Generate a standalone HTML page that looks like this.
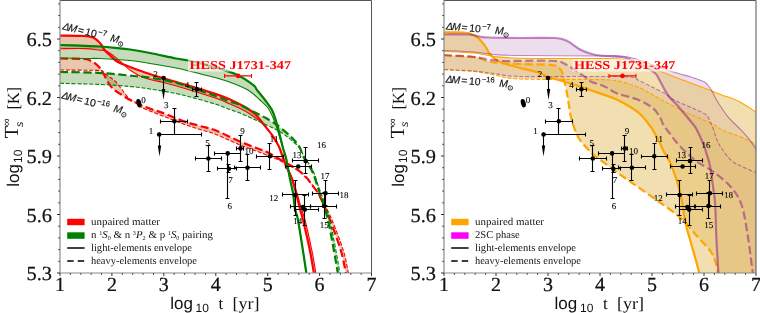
<!DOCTYPE html>
<html><head><meta charset="utf-8"><style>
text{text-rendering:geometricPrecision}
html,body{margin:0;padding:0;background:#fff;width:760px;height:313px;overflow:hidden}
svg{display:block;will-change:transform}
text{font-family:"Liberation Serif",serif;fill:#111}
.tick{font-size:20px;stroke:#000;stroke-width:0.2px}
.xl{font-size:16px}
.sans{font-family:"Liberation Sans",sans-serif}
.lab{font-size:9px;fill:#000;stroke:#000;stroke-width:0.08px}
.leg{font-size:10.5px;fill:#111}
.ann{font-family:"Liberation Sans",sans-serif;font-size:10.4px;fill:#111;stroke:#111;stroke-width:0.15px}
.hess{font-weight:bold;font-size:12px;fill:#ff0000}
</style></head><body>
<svg width="760" height="313" viewBox="0 0 760 313">
<defs><clipPath id="cl"><rect x="60" y="0" width="311.5" height="273"/></clipPath><clipPath id="cr"><rect x="444" y="0" width="312" height="273"/></clipPath></defs>
<rect width="760" height="313" fill="#fff"/>
<g clip-path="url(#cl)">
<path d="M60.00,35.60 C64.00,35.67 78.50,35.68 84.00,36.00 C89.50,36.32 90.67,36.67 93.00,37.50 C95.33,38.33 96.58,39.75 98.00,41.00 C99.42,42.25 100.33,43.42 101.50,45.00 C102.67,46.58 103.58,48.75 105.00,50.50 C106.42,52.25 108.33,53.92 110.00,55.50 C111.67,57.08 113.33,58.75 115.00,60.00 C116.67,61.25 117.50,61.83 120.00,63.00 C122.50,64.17 125.83,65.42 130.00,67.00 C134.17,68.58 139.40,70.62 145.00,72.50 C150.60,74.38 157.23,76.38 163.60,78.30 C169.97,80.22 174.47,81.37 183.20,84.00 C191.93,86.63 208.20,91.52 216.00,94.10 C223.80,96.68 225.17,97.35 230.00,99.50 C234.83,101.65 240.83,104.58 245.00,107.00 C249.17,109.42 252.33,111.67 255.00,114.00 C257.67,116.33 259.33,119.00 261.00,121.00 C262.67,123.00 263.17,123.67 265.00,126.00 C266.83,128.33 270.00,132.17 272.00,135.00 C274.00,137.83 275.67,140.67 277.00,143.00 C278.33,145.33 279.00,146.50 280.00,149.00 C281.00,151.50 281.83,154.83 283.00,158.00 C284.17,161.17 285.50,164.50 287.00,168.00 C288.50,171.50 290.50,174.83 292.00,179.00 C293.50,183.17 294.67,188.00 296.00,193.00 C297.33,198.00 298.83,204.50 300.00,209.00 C301.17,213.50 301.33,213.00 303.00,220.00 C304.67,227.00 308.17,242.00 310.00,251.00 C311.83,260.00 313.33,270.17 314.00,274.00 L316.00,274.00 C315.33,270.17 313.83,260.00 312.00,251.00 C310.17,242.00 306.75,227.00 305.00,220.00 C303.25,213.00 302.83,213.50 301.50,209.00 C300.17,204.50 298.50,198.00 297.00,193.00 C295.50,188.00 294.08,183.17 292.50,179.00 C290.92,174.83 289.00,171.50 287.50,168.00 C286.00,164.50 284.75,161.17 283.50,158.00 C282.25,154.83 281.08,151.50 280.00,149.00 C278.92,146.50 278.33,145.33 277.00,143.00 C275.67,140.67 274.00,137.75 272.00,135.00 C270.00,132.25 266.83,128.67 265.00,126.50 C263.17,124.33 262.67,123.50 261.00,122.00 C259.33,120.50 257.67,119.33 255.00,117.50 C252.33,115.67 249.17,113.25 245.00,111.00 C240.83,108.75 234.83,106.12 230.00,104.00 C225.17,101.88 223.80,100.97 216.00,98.30 C208.20,95.63 191.93,90.63 183.20,88.00 C174.47,85.37 168.80,83.83 163.60,82.50 C158.40,81.17 155.93,81.08 152.00,80.00 C148.07,78.92 143.67,77.67 140.00,76.00 C136.33,74.33 132.67,71.87 130.00,70.00 C127.33,68.13 126.17,66.70 124.00,64.80 C121.83,62.90 119.33,60.53 117.00,58.60 C114.67,56.67 112.00,54.53 110.00,53.20 C108.00,51.87 106.67,51.10 105.00,50.60 C103.33,50.10 103.33,50.53 100.00,50.20 C96.67,49.87 91.67,48.85 85.00,48.60 C78.33,48.35 64.17,48.68 60.00,48.70 Z" fill="rgba(188,85,8,0.33)"/>
<path d="M60.00,58.50 C63.83,58.58 78.00,58.67 83.00,59.00 C88.00,59.33 87.88,59.70 90.00,60.50 C92.12,61.30 93.90,62.38 95.70,63.80 C97.50,65.22 99.42,67.22 100.80,69.00 C102.18,70.78 102.72,72.17 104.00,74.50 C105.28,76.83 106.90,80.52 108.50,83.00 C110.10,85.48 111.48,87.48 113.60,89.40 C115.72,91.32 118.43,92.73 121.20,94.50 C123.97,96.27 127.73,98.65 130.20,100.00 C132.67,101.35 134.02,101.65 136.00,102.60 C137.98,103.55 139.37,104.55 142.10,105.70 C144.83,106.85 148.97,108.30 152.40,109.50 C155.83,110.70 157.57,110.97 162.70,112.90 C167.83,114.83 176.98,118.92 183.20,121.10 C189.42,123.28 194.53,124.43 200.00,126.00 C205.47,127.57 209.92,128.17 216.00,130.50 C222.08,132.83 229.67,137.03 236.50,140.00 C243.33,142.97 252.08,146.38 257.00,148.30 C261.92,150.22 262.83,150.05 266.00,151.50 C269.17,152.95 272.67,155.08 276.00,157.00 C279.33,158.92 282.67,161.08 286.00,163.00 C289.33,164.92 292.67,166.17 296.00,168.50 C299.33,170.83 303.33,174.25 306.00,177.00 C308.67,179.75 310.00,182.33 312.00,185.00 C314.00,187.67 316.33,190.33 318.00,193.00 C319.67,195.67 320.00,196.50 322.00,201.00 C324.00,205.50 326.83,211.67 330.00,220.00 C333.17,228.33 338.33,242.00 341.00,251.00 C343.67,260.00 345.17,270.17 346.00,274.00 L348.50,274.00 C347.67,270.17 346.25,260.00 343.50,251.00 C340.75,242.00 335.33,228.00 332.00,220.00 C328.67,212.00 325.67,207.17 323.50,203.00 C321.33,198.83 320.58,197.67 319.00,195.00 C317.42,192.33 315.83,189.50 314.00,187.00 C312.17,184.50 310.33,182.50 308.00,180.00 C305.67,177.50 303.00,174.33 300.00,172.00 C297.00,169.67 293.73,168.08 290.00,166.00 C286.27,163.92 283.10,161.95 277.60,159.50 C272.10,157.05 263.27,153.72 257.00,151.30 C250.73,148.88 246.83,147.82 240.00,145.00 C233.17,142.18 222.67,136.98 216.00,134.40 C209.33,131.82 205.47,131.23 200.00,129.50 C194.53,127.77 189.42,126.27 183.20,124.00 C176.98,121.73 169.55,118.62 162.70,115.90 C155.85,113.18 146.47,109.82 142.10,107.70 C137.73,105.58 138.43,104.53 136.50,103.20 C134.57,101.87 132.17,100.98 130.50,99.70 C128.83,98.42 127.75,96.95 126.50,95.50 C125.25,94.05 124.17,92.50 123.00,91.00 C121.83,89.50 120.75,88.08 119.50,86.50 C118.25,84.92 117.00,83.00 115.50,81.50 C114.00,80.00 112.25,78.78 110.50,77.50 C108.75,76.22 106.42,74.85 105.00,73.80 C103.58,72.75 103.17,71.77 102.00,71.20 C100.83,70.63 105.00,70.60 98.00,70.40 C91.00,70.20 66.33,70.07 60.00,70.00 Z" fill="rgba(188,85,8,0.33)"/>
<path d="M60.00,45.00 C64.17,45.13 78.33,45.55 85.00,45.80 C91.67,46.05 95.00,46.17 100.00,46.50 C105.00,46.83 110.00,47.30 115.00,47.80 C120.00,48.30 124.17,48.63 130.00,49.50 C135.83,50.37 142.33,51.50 150.00,53.00 C157.67,54.50 169.20,57.17 176.00,58.50 C182.80,59.83 184.13,59.50 190.80,61.00 C197.47,62.50 208.38,65.23 216.00,67.50 C223.62,69.77 230.33,71.70 236.50,74.60 C242.67,77.50 249.58,82.33 253.00,84.90 C256.42,87.47 255.00,87.48 257.00,90.00 C259.00,92.52 262.50,96.67 265.00,100.00 C267.50,103.33 270.17,106.50 272.00,110.00 C273.83,113.50 274.92,117.67 276.00,121.00 C277.08,124.33 277.67,126.83 278.50,130.00 C279.33,133.17 280.25,137.00 281.00,140.00 C281.75,143.00 282.17,145.00 283.00,148.00 C283.83,151.00 285.17,154.67 286.00,158.00 C286.83,161.33 287.33,164.50 288.00,168.00 C288.67,171.50 289.17,174.83 290.00,179.00 C290.83,183.17 292.17,188.00 293.00,193.00 C293.83,198.00 294.17,204.50 295.00,209.00 C295.83,213.50 296.67,213.00 298.00,220.00 C299.33,227.00 301.58,242.00 303.00,251.00 C304.42,260.00 305.92,270.17 306.50,274.00 L306.50,274.00 C305.92,270.17 304.42,260.00 303.00,251.00 C301.58,242.00 299.33,227.00 298.00,220.00 C296.67,213.00 295.83,213.50 295.00,209.00 C294.17,204.50 293.83,198.00 293.00,193.00 C292.17,188.00 290.83,183.17 290.00,179.00 C289.17,174.83 288.67,171.50 288.00,168.00 C287.33,164.50 286.83,161.33 286.00,158.00 C285.17,154.67 283.92,151.00 283.00,148.00 C282.08,145.00 281.42,143.00 280.50,140.00 C279.58,137.00 278.58,133.33 277.50,130.00 C276.42,126.67 275.58,123.67 274.00,120.00 C272.42,116.33 270.33,111.33 268.00,108.00 C265.67,104.67 263.33,103.00 260.00,100.00 C256.67,97.00 252.68,92.83 248.00,90.00 C243.32,87.17 237.23,85.03 231.90,83.00 C226.57,80.97 220.48,79.13 216.00,77.80 C211.52,76.47 209.33,76.10 205.00,75.00 C200.67,73.90 194.83,72.37 190.00,71.20 C185.17,70.03 182.67,69.28 176.00,68.00 C169.33,66.72 157.67,64.75 150.00,63.50 C142.33,62.25 138.33,61.33 130.00,60.50 C121.67,59.67 107.50,58.83 100.00,58.50 C92.50,58.17 91.67,58.58 85.00,58.50 C78.33,58.42 64.17,58.08 60.00,58.00 Z" fill="rgba(62,135,28,0.30)"/>
<path d="M60.00,72.00 C66.33,72.13 85.67,72.13 98.00,72.80 C110.33,73.47 126.67,75.35 134.00,76.00 C141.33,76.65 137.22,76.07 142.00,76.70 C146.78,77.33 155.83,78.43 162.70,79.80 C169.57,81.17 174.32,82.17 183.20,84.90 C192.08,87.63 208.20,93.43 216.00,96.20 C223.80,98.97 226.00,100.03 230.00,101.50 C234.00,102.97 236.67,103.58 240.00,105.00 C243.33,106.42 246.67,108.33 250.00,110.00 C253.33,111.67 257.33,113.67 260.00,115.00 C262.67,116.33 264.33,117.08 266.00,118.00 C267.67,118.92 268.17,119.33 270.00,120.50 C271.83,121.67 274.00,122.75 277.00,125.00 C280.00,127.25 285.00,131.33 288.00,134.00 C291.00,136.67 293.00,138.67 295.00,141.00 C297.00,143.33 298.67,145.50 300.00,148.00 C301.33,150.50 301.67,153.33 303.00,156.00 C304.33,158.67 306.33,161.17 308.00,164.00 C309.67,166.83 311.33,169.00 313.00,173.00 C314.67,177.00 316.50,183.50 318.00,188.00 C319.50,192.50 320.33,194.67 322.00,200.00 C323.67,205.33 326.00,211.50 328.00,220.00 C330.00,228.50 332.33,242.00 334.00,251.00 C335.67,260.00 337.33,270.17 338.00,274.00 L340.00,274.00 C339.33,270.17 337.70,260.00 336.00,251.00 C334.30,242.00 331.88,228.50 329.80,220.00 C327.72,211.50 325.30,205.33 323.50,200.00 C321.70,194.67 320.58,192.50 319.00,188.00 C317.42,183.50 315.67,177.00 314.00,173.00 C312.33,169.00 310.67,166.83 309.00,164.00 C307.33,161.17 305.50,158.50 304.00,156.00 C302.50,153.50 301.17,150.83 300.00,149.00 C298.83,147.17 299.50,147.33 297.00,145.00 C294.50,142.67 288.67,137.67 285.00,135.00 C281.33,132.33 279.17,131.17 275.00,129.00 C270.83,126.83 264.17,123.92 260.00,122.00 C255.83,120.08 253.33,119.00 250.00,117.50 C246.67,116.00 243.33,114.33 240.00,113.00 C236.67,111.67 234.00,110.95 230.00,109.50 C226.00,108.05 221.67,106.13 216.00,104.30 C210.33,102.47 202.67,100.30 196.00,98.50 C189.33,96.70 183.67,95.08 176.00,93.50 C168.33,91.92 157.67,90.17 150.00,89.00 C142.33,87.83 138.17,87.25 130.00,86.50 C121.83,85.75 112.67,85.03 101.00,84.50 C89.33,83.97 66.83,83.50 60.00,83.30 Z" fill="rgba(62,135,28,0.30)"/>
<path d="M60.00,35.60 C64.00,35.67 78.50,35.68 84.00,36.00 C89.50,36.32 90.67,36.67 93.00,37.50 C95.33,38.33 96.58,39.75 98.00,41.00 C99.42,42.25 100.33,43.42 101.50,45.00 C102.67,46.58 103.58,48.75 105.00,50.50 C106.42,52.25 108.33,53.92 110.00,55.50 C111.67,57.08 113.33,58.75 115.00,60.00 C116.67,61.25 117.50,61.83 120.00,63.00 C122.50,64.17 125.83,65.42 130.00,67.00 C134.17,68.58 139.40,70.62 145.00,72.50 C150.60,74.38 157.23,76.38 163.60,78.30 C169.97,80.22 174.47,81.37 183.20,84.00 C191.93,86.63 208.20,91.52 216.00,94.10 C223.80,96.68 225.17,97.35 230.00,99.50 C234.83,101.65 240.83,104.58 245.00,107.00 C249.17,109.42 252.33,111.67 255.00,114.00 C257.67,116.33 259.33,119.00 261.00,121.00 C262.67,123.00 263.17,123.67 265.00,126.00 C266.83,128.33 270.00,132.17 272.00,135.00 C274.00,137.83 275.67,140.67 277.00,143.00 C278.33,145.33 279.00,146.50 280.00,149.00 C281.00,151.50 281.83,154.83 283.00,158.00 C284.17,161.17 285.50,164.50 287.00,168.00 C288.50,171.50 290.50,174.83 292.00,179.00 C293.50,183.17 294.67,188.00 296.00,193.00 C297.33,198.00 298.83,204.50 300.00,209.00 C301.17,213.50 301.33,213.00 303.00,220.00 C304.67,227.00 308.17,242.00 310.00,251.00 C311.83,260.00 313.33,270.17 314.00,274.00" fill="none" stroke="#ff0000" stroke-width="2.20" stroke-linejoin="round"/>

<path d="M60.00,48.70 C64.17,48.68 78.33,48.35 85.00,48.60 C91.67,48.85 96.67,49.87 100.00,50.20 C103.33,50.53 103.33,50.10 105.00,50.60 C106.67,51.10 108.00,51.87 110.00,53.20 C112.00,54.53 114.67,56.67 117.00,58.60 C119.33,60.53 121.83,62.90 124.00,64.80 C126.17,66.70 127.33,68.13 130.00,70.00 C132.67,71.87 136.33,74.33 140.00,76.00 C143.67,77.67 148.07,78.92 152.00,80.00 C155.93,81.08 158.40,81.17 163.60,82.50 C168.80,83.83 174.47,85.37 183.20,88.00 C191.93,90.63 208.20,95.63 216.00,98.30 C223.80,100.97 225.17,101.88 230.00,104.00 C234.83,106.12 240.83,108.75 245.00,111.00 C249.17,113.25 252.33,115.67 255.00,117.50 C257.67,119.33 259.33,120.50 261.00,122.00 C262.67,123.50 263.17,124.33 265.00,126.50 C266.83,128.67 270.00,132.25 272.00,135.00 C274.00,137.75 275.67,140.67 277.00,143.00 C278.33,145.33 278.92,146.50 280.00,149.00 C281.08,151.50 282.25,154.83 283.50,158.00 C284.75,161.17 286.00,164.50 287.50,168.00 C289.00,171.50 290.92,174.83 292.50,179.00 C294.08,183.17 295.50,188.00 297.00,193.00 C298.50,198.00 300.17,204.50 301.50,209.00 C302.83,213.50 303.25,213.00 305.00,220.00 C306.75,227.00 310.17,242.00 312.00,251.00 C313.83,260.00 315.33,270.17 316.00,274.00" fill="none" stroke="#ff0000" stroke-width="1.10" stroke-linejoin="round"/>

<path d="M60.00,58.50 C63.83,58.58 78.00,58.67 83.00,59.00 C88.00,59.33 87.88,59.70 90.00,60.50 C92.12,61.30 93.90,62.38 95.70,63.80 C97.50,65.22 99.42,67.22 100.80,69.00 C102.18,70.78 102.72,72.17 104.00,74.50 C105.28,76.83 106.90,80.52 108.50,83.00 C110.10,85.48 111.48,87.48 113.60,89.40 C115.72,91.32 118.43,92.73 121.20,94.50 C123.97,96.27 127.73,98.65 130.20,100.00 C132.67,101.35 134.02,101.65 136.00,102.60 C137.98,103.55 139.37,104.55 142.10,105.70 C144.83,106.85 148.97,108.30 152.40,109.50 C155.83,110.70 157.57,110.97 162.70,112.90 C167.83,114.83 176.98,118.92 183.20,121.10 C189.42,123.28 194.53,124.43 200.00,126.00 C205.47,127.57 209.92,128.17 216.00,130.50 C222.08,132.83 229.67,137.03 236.50,140.00 C243.33,142.97 252.08,146.38 257.00,148.30 C261.92,150.22 262.83,150.05 266.00,151.50 C269.17,152.95 272.67,155.08 276.00,157.00 C279.33,158.92 282.67,161.08 286.00,163.00 C289.33,164.92 292.67,166.17 296.00,168.50 C299.33,170.83 303.33,174.25 306.00,177.00 C308.67,179.75 310.00,182.33 312.00,185.00 C314.00,187.67 316.33,190.33 318.00,193.00 C319.67,195.67 320.00,196.50 322.00,201.00 C324.00,205.50 326.83,211.67 330.00,220.00 C333.17,228.33 338.33,242.00 341.00,251.00 C343.67,260.00 345.17,270.17 346.00,274.00" fill="none" stroke="#ff0000" stroke-width="2.20" stroke-dasharray="8.14 3.52" stroke-linejoin="round"/>

<path d="M60.00,70.00 C66.33,70.07 91.00,70.20 98.00,70.40 C105.00,70.60 100.83,70.63 102.00,71.20 C103.17,71.77 103.58,72.75 105.00,73.80 C106.42,74.85 108.75,76.22 110.50,77.50 C112.25,78.78 114.00,80.00 115.50,81.50 C117.00,83.00 118.25,84.92 119.50,86.50 C120.75,88.08 121.83,89.50 123.00,91.00 C124.17,92.50 125.25,94.05 126.50,95.50 C127.75,96.95 128.83,98.42 130.50,99.70 C132.17,100.98 134.57,101.87 136.50,103.20 C138.43,104.53 137.73,105.58 142.10,107.70 C146.47,109.82 155.85,113.18 162.70,115.90 C169.55,118.62 176.98,121.73 183.20,124.00 C189.42,126.27 194.53,127.77 200.00,129.50 C205.47,131.23 209.33,131.82 216.00,134.40 C222.67,136.98 233.17,142.18 240.00,145.00 C246.83,147.82 250.73,148.88 257.00,151.30 C263.27,153.72 272.10,157.05 277.60,159.50 C283.10,161.95 286.27,163.92 290.00,166.00 C293.73,168.08 297.00,169.67 300.00,172.00 C303.00,174.33 305.67,177.50 308.00,180.00 C310.33,182.50 312.17,184.50 314.00,187.00 C315.83,189.50 317.42,192.33 319.00,195.00 C320.58,197.67 321.33,198.83 323.50,203.00 C325.67,207.17 328.67,212.00 332.00,220.00 C335.33,228.00 340.75,242.00 343.50,251.00 C346.25,260.00 347.67,270.17 348.50,274.00" fill="none" stroke="#ff0000" stroke-width="1.10" stroke-dasharray="4.07 1.76" stroke-linejoin="round"/>

<path d="M60.00,45.00 C64.17,45.13 78.33,45.55 85.00,45.80 C91.67,46.05 95.00,46.17 100.00,46.50 C105.00,46.83 110.00,47.30 115.00,47.80 C120.00,48.30 124.17,48.63 130.00,49.50 C135.83,50.37 142.33,51.50 150.00,53.00 C157.67,54.50 169.20,57.17 176.00,58.50 C182.80,59.83 184.13,59.50 190.80,61.00 C197.47,62.50 208.38,65.23 216.00,67.50 C223.62,69.77 230.33,71.70 236.50,74.60 C242.67,77.50 249.58,82.33 253.00,84.90 C256.42,87.47 255.00,87.48 257.00,90.00 C259.00,92.52 262.50,96.67 265.00,100.00 C267.50,103.33 270.17,106.50 272.00,110.00 C273.83,113.50 274.92,117.67 276.00,121.00 C277.08,124.33 277.67,126.83 278.50,130.00 C279.33,133.17 280.25,137.00 281.00,140.00 C281.75,143.00 282.17,145.00 283.00,148.00 C283.83,151.00 285.17,154.67 286.00,158.00 C286.83,161.33 287.33,164.50 288.00,168.00 C288.67,171.50 289.17,174.83 290.00,179.00 C290.83,183.17 292.17,188.00 293.00,193.00 C293.83,198.00 294.17,204.50 295.00,209.00 C295.83,213.50 296.67,213.00 298.00,220.00 C299.33,227.00 301.58,242.00 303.00,251.00 C304.42,260.00 305.92,270.17 306.50,274.00" fill="none" stroke="#008000" stroke-width="2.20" stroke-linejoin="round"/>

<path d="M60.00,58.00 C64.17,58.08 78.33,58.42 85.00,58.50 C91.67,58.58 92.50,58.17 100.00,58.50 C107.50,58.83 121.67,59.67 130.00,60.50 C138.33,61.33 142.33,62.25 150.00,63.50 C157.67,64.75 169.33,66.72 176.00,68.00 C182.67,69.28 185.17,70.03 190.00,71.20 C194.83,72.37 200.67,73.90 205.00,75.00 C209.33,76.10 211.52,76.47 216.00,77.80 C220.48,79.13 226.57,80.97 231.90,83.00 C237.23,85.03 243.32,87.17 248.00,90.00 C252.68,92.83 256.67,97.00 260.00,100.00 C263.33,103.00 265.67,104.67 268.00,108.00 C270.33,111.33 272.42,116.33 274.00,120.00 C275.58,123.67 276.42,126.67 277.50,130.00 C278.58,133.33 279.58,137.00 280.50,140.00 C281.42,143.00 282.08,145.00 283.00,148.00 C283.92,151.00 285.17,154.67 286.00,158.00 C286.83,161.33 287.33,164.50 288.00,168.00 C288.67,171.50 289.17,174.83 290.00,179.00 C290.83,183.17 292.17,188.00 293.00,193.00 C293.83,198.00 294.17,204.50 295.00,209.00 C295.83,213.50 296.67,213.00 298.00,220.00 C299.33,227.00 301.58,242.00 303.00,251.00 C304.42,260.00 305.92,270.17 306.50,274.00" fill="none" stroke="#008000" stroke-width="1.10" stroke-linejoin="round"/>

<path d="M60.00,72.00 C66.33,72.13 85.67,72.13 98.00,72.80 C110.33,73.47 126.67,75.35 134.00,76.00 C141.33,76.65 137.22,76.07 142.00,76.70 C146.78,77.33 155.83,78.43 162.70,79.80 C169.57,81.17 174.32,82.17 183.20,84.90 C192.08,87.63 208.20,93.43 216.00,96.20 C223.80,98.97 226.00,100.03 230.00,101.50 C234.00,102.97 236.67,103.58 240.00,105.00 C243.33,106.42 246.67,108.33 250.00,110.00 C253.33,111.67 257.33,113.67 260.00,115.00 C262.67,116.33 264.33,117.08 266.00,118.00 C267.67,118.92 268.17,119.33 270.00,120.50 C271.83,121.67 274.00,122.75 277.00,125.00 C280.00,127.25 285.00,131.33 288.00,134.00 C291.00,136.67 293.00,138.67 295.00,141.00 C297.00,143.33 298.67,145.50 300.00,148.00 C301.33,150.50 301.67,153.33 303.00,156.00 C304.33,158.67 306.33,161.17 308.00,164.00 C309.67,166.83 311.33,169.00 313.00,173.00 C314.67,177.00 316.50,183.50 318.00,188.00 C319.50,192.50 320.33,194.67 322.00,200.00 C323.67,205.33 326.00,211.50 328.00,220.00 C330.00,228.50 332.33,242.00 334.00,251.00 C335.67,260.00 337.33,270.17 338.00,274.00" fill="none" stroke="#008000" stroke-width="2.20" stroke-dasharray="8.14 3.52" stroke-linejoin="round"/>

<path d="M60.00,83.30 C66.83,83.50 89.33,83.97 101.00,84.50 C112.67,85.03 121.83,85.75 130.00,86.50 C138.17,87.25 142.33,87.83 150.00,89.00 C157.67,90.17 168.33,91.92 176.00,93.50 C183.67,95.08 189.33,96.70 196.00,98.50 C202.67,100.30 210.33,102.47 216.00,104.30 C221.67,106.13 226.00,108.05 230.00,109.50 C234.00,110.95 236.67,111.67 240.00,113.00 C243.33,114.33 246.67,116.00 250.00,117.50 C253.33,119.00 255.83,120.08 260.00,122.00 C264.17,123.92 270.83,126.83 275.00,129.00 C279.17,131.17 281.33,132.33 285.00,135.00 C288.67,137.67 294.50,142.67 297.00,145.00 C299.50,147.33 298.83,147.17 300.00,149.00 C301.17,150.83 302.50,153.50 304.00,156.00 C305.50,158.50 307.33,161.17 309.00,164.00 C310.67,166.83 312.33,169.00 314.00,173.00 C315.67,177.00 317.42,183.50 319.00,188.00 C320.58,192.50 321.70,194.67 323.50,200.00 C325.30,205.33 327.72,211.50 329.80,220.00 C331.88,228.50 334.30,242.00 336.00,251.00 C337.70,260.00 339.33,270.17 340.00,274.00" fill="none" stroke="#008000" stroke-width="1.10" stroke-dasharray="4.07 1.76" stroke-linejoin="round"/>

</g>
<g clip-path="url(#cr)">
<path d="M444.00,34.50 C448.17,34.50 463.17,34.17 469.00,34.50 C474.83,34.83 475.67,36.00 479.00,36.50 C482.33,37.00 482.17,37.25 489.00,37.50 C495.83,37.75 509.00,37.92 520.00,38.00 C531.00,38.08 547.12,37.48 555.00,38.00 C562.88,38.52 563.20,39.22 567.30,41.10 C571.40,42.98 575.82,47.23 579.60,49.30 C583.38,51.37 586.60,52.47 590.00,53.50 C593.40,54.53 595.00,55.08 600.00,55.50 C605.00,55.92 615.00,55.67 620.00,56.00 C625.00,56.33 626.67,56.83 630.00,57.50 C633.33,58.17 636.67,58.92 640.00,60.00 C643.33,61.08 646.67,62.75 650.00,64.00 C653.33,65.25 655.67,66.03 660.00,67.50 C664.33,68.97 670.83,71.22 676.00,72.80 C681.17,74.38 686.83,75.72 691.00,77.00 C695.17,78.28 698.50,79.50 701.00,80.50 C703.50,81.50 704.50,81.75 706.00,83.00 C707.50,84.25 708.83,86.33 710.00,88.00 C711.17,89.67 712.00,91.17 713.00,93.00 C714.00,94.83 714.97,97.13 716.00,99.00 C717.03,100.87 717.13,101.13 719.20,104.20 C721.27,107.27 725.10,113.43 728.40,117.40 C731.70,121.37 735.65,124.50 739.00,128.00 C742.35,131.50 745.68,134.90 748.50,138.40 C751.32,141.90 748.98,138.73 755.90,149.00 C762.82,159.27 782.65,174.83 790.00,200.00 C797.35,225.17 798.33,283.33 800.00,300.00 L719.00,300.00 C718.90,295.67 718.85,284.57 718.40,274.00 C717.95,263.43 716.83,248.10 716.30,236.60 C715.77,225.10 715.73,213.23 715.20,205.00 C714.67,196.77 713.97,193.68 713.10,187.20 C712.23,180.72 711.23,172.13 710.00,166.10 C708.77,160.07 706.83,154.73 705.70,151.00 C704.57,147.27 704.67,147.20 703.20,143.70 C701.73,140.20 698.62,133.28 696.90,130.00 C695.18,126.72 695.77,127.63 692.90,124.00 C690.03,120.37 683.87,113.03 679.70,108.20 C675.53,103.37 671.18,99.53 667.90,95.00 C664.62,90.47 662.15,84.67 660.00,81.00 C657.85,77.33 657.50,75.33 655.00,73.00 C652.50,70.67 649.17,69.25 645.00,67.00 C640.83,64.75 633.95,61.17 630.00,59.50 C626.05,57.83 626.97,57.58 621.30,57.00 C615.63,56.42 612.88,56.25 596.00,56.00 C579.12,55.75 537.00,55.75 520.00,55.50 C503.00,55.25 501.67,55.08 494.00,54.50 C486.33,53.92 482.33,52.67 474.00,52.00 C465.67,51.33 449.00,50.75 444.00,50.50 Z" fill="rgba(202,158,202,0.34)"/>
<path d="M444.00,55.00 C449.00,55.33 466.50,56.25 474.00,57.00 C481.50,57.75 484.00,58.83 489.00,59.50 C494.00,60.17 498.83,60.78 504.00,61.00 C509.17,61.22 511.50,60.80 520.00,60.80 C528.50,60.80 547.50,60.47 555.00,61.00 C562.50,61.53 561.67,62.50 565.00,64.00 C568.33,65.50 571.67,67.83 575.00,70.00 C578.33,72.17 582.22,75.00 585.00,77.00 C587.78,79.00 588.53,80.47 591.70,82.00 C594.87,83.53 599.77,84.30 604.00,86.20 C608.23,88.10 611.40,91.13 617.10,93.40 C622.80,95.67 632.22,97.33 638.20,99.80 C644.18,102.27 649.37,105.27 653.00,108.20 C656.63,111.13 658.25,114.58 660.00,117.40 C661.75,120.22 661.75,122.25 663.50,125.10 C665.25,127.95 668.38,131.68 670.50,134.50 C672.62,137.32 673.85,139.25 676.20,142.00 C678.55,144.75 682.22,148.62 684.60,151.00 C686.98,153.38 688.38,154.48 690.50,156.30 C692.62,158.12 693.37,159.22 697.30,161.90 C701.23,164.58 708.48,168.18 714.10,172.40 C719.72,176.62 726.42,181.77 731.00,187.20 C735.58,192.63 738.78,196.77 741.60,205.00 C744.42,213.23 746.15,226.05 747.90,236.60 C749.65,247.15 751.28,262.07 752.10,268.30 C752.92,274.53 752.65,268.72 752.80,274.00 C752.95,279.28 752.97,295.67 753.00,300.00 L800.00,300.00 C798.33,281.67 798.00,211.50 790.00,190.00 C782.00,168.50 761.55,175.73 752.00,171.00 C742.45,166.27 737.68,165.27 732.70,161.60 C727.72,157.93 724.72,152.60 722.10,149.00 C719.48,145.40 718.40,143.17 717.00,140.00 C715.60,136.83 714.87,133.12 713.70,130.00 C712.53,126.88 711.28,123.85 710.00,121.30 C708.72,118.75 708.85,116.88 706.00,114.70 C703.15,112.52 698.37,110.72 692.90,108.20 C687.43,105.68 678.02,102.12 673.20,99.60 C668.38,97.08 669.53,96.20 664.00,93.10 C658.47,90.00 645.67,83.68 640.00,81.00 C634.33,78.32 637.33,77.75 630.00,77.00 C622.67,76.25 614.33,76.58 596.00,76.50 C577.67,76.42 537.00,77.00 520.00,76.50 C503.00,76.00 501.67,74.42 494.00,73.50 C486.33,72.58 482.33,71.67 474.00,71.00 C465.67,70.33 449.00,69.75 444.00,69.50 Z" fill="rgba(202,158,202,0.34)"/>
<path d="M444.00,32.40 C447.33,32.42 459.50,32.23 464.00,32.50 C468.50,32.77 468.83,33.25 471.00,34.00 C473.17,34.75 475.17,35.67 477.00,37.00 C478.83,38.33 480.33,40.00 482.00,42.00 C483.67,44.00 485.83,47.17 487.00,49.00 C488.17,50.83 487.83,51.50 489.00,53.00 C490.17,54.50 492.17,56.50 494.00,58.00 C495.83,59.50 497.50,60.83 500.00,62.00 C502.50,63.17 505.67,64.00 509.00,65.00 C512.33,66.00 514.83,66.67 520.00,68.00 C525.17,69.33 535.33,71.50 540.00,73.00 C544.67,74.50 543.47,75.42 548.00,77.00 C552.53,78.58 558.53,79.77 567.20,82.50 C575.87,85.23 591.68,90.52 600.00,93.40 C608.32,96.28 610.73,96.63 617.10,99.80 C623.47,102.97 632.57,107.83 638.20,112.40 C643.83,116.97 647.38,122.27 650.90,127.20 C654.42,132.13 657.20,138.03 659.30,142.00 C661.40,145.97 661.75,147.68 663.50,151.00 C665.25,154.32 667.68,157.27 669.80,161.90 C671.92,166.53 674.43,173.53 676.20,178.80 C677.97,184.07 679.35,189.13 680.40,193.50 C681.45,197.87 681.62,199.92 682.50,205.00 C683.38,210.08 684.28,217.67 685.70,224.00 C687.12,230.33 688.72,234.67 691.00,243.00 C693.28,251.33 697.40,264.50 699.40,274.00 C701.40,283.50 702.40,295.67 703.00,300.00 L800.00,300.00 C798.33,273.33 797.55,171.43 790.00,140.00 C782.45,108.57 763.20,117.80 754.70,111.40 C746.20,105.00 742.95,103.83 739.00,101.60 C735.05,99.37 733.87,99.10 731.00,98.00 C728.13,96.90 724.97,96.17 721.80,95.00 C718.63,93.83 716.30,92.67 712.00,91.00 C707.70,89.33 702.00,87.25 696.00,85.00 C690.00,82.75 682.83,80.17 676.00,77.50 C669.17,74.83 661.00,71.58 655.00,69.00 C649.00,66.42 645.83,63.67 640.00,62.00 C634.17,60.33 627.33,59.58 620.00,59.00 C612.67,58.42 612.67,58.63 596.00,58.50 C579.33,58.37 537.00,58.53 520.00,58.20 C503.00,57.87 501.67,57.37 494.00,56.50 C486.33,55.63 482.33,53.83 474.00,53.00 C465.67,52.17 449.00,51.75 444.00,51.50 Z" fill="rgba(229,191,99,0.5)"/>
<path d="M444.00,55.50 C449.00,55.78 466.83,56.28 474.00,57.20 C481.17,58.12 482.67,60.03 487.00,61.00 C491.33,61.97 494.50,62.50 500.00,63.00 C505.50,63.50 511.67,63.70 520.00,64.00 C528.33,64.30 543.67,64.30 550.00,64.80 C556.33,65.30 556.00,65.80 558.00,67.00 C560.00,68.20 561.00,69.83 562.00,72.00 C563.00,74.17 563.27,77.00 564.00,80.00 C564.73,83.00 565.65,86.22 566.40,90.00 C567.15,93.78 567.63,97.78 568.50,102.70 C569.37,107.62 569.85,113.53 571.60,119.50 C573.35,125.47 575.65,132.87 579.00,138.50 C582.35,144.13 588.87,150.28 591.70,153.30 C594.53,156.32 591.77,153.42 596.00,156.60 C600.23,159.78 610.07,167.30 617.10,172.40 C624.13,177.50 631.17,182.27 638.20,187.20 C645.23,192.13 652.27,196.92 659.30,202.00 C666.33,207.08 674.07,211.93 680.40,217.70 C686.73,223.47 692.03,230.63 697.30,236.60 C702.57,242.57 708.48,247.27 712.00,253.50 C715.52,259.73 716.73,266.25 718.40,274.00 C720.07,281.75 721.40,295.67 722.00,300.00 L800.00,300.00 C798.33,277.50 797.53,191.05 790.00,165.00 C782.47,138.95 763.30,148.48 754.80,143.70 C746.30,138.92 744.47,138.58 739.00,136.30 C733.53,134.02 726.40,132.05 722.00,130.00 C717.60,127.95 718.55,126.92 712.60,124.00 C706.65,121.08 695.07,116.67 686.30,112.50 C677.53,108.33 667.72,103.08 660.00,99.00 C652.28,94.92 646.67,90.92 640.00,88.00 C633.33,85.08 627.33,82.92 620.00,81.50 C612.67,80.08 612.67,79.92 596.00,79.50 C579.33,79.08 537.00,79.75 520.00,79.00 C503.00,78.25 501.67,76.25 494.00,75.00 C486.33,73.75 482.33,72.37 474.00,71.50 C465.67,70.63 449.00,70.08 444.00,69.80 Z" fill="rgba(229,191,99,0.5)"/>
<path d="M444.00,32.40 C447.33,32.42 459.50,32.23 464.00,32.50 C468.50,32.77 468.83,33.25 471.00,34.00 C473.17,34.75 475.17,35.67 477.00,37.00 C478.83,38.33 480.33,40.00 482.00,42.00 C483.67,44.00 485.83,47.17 487.00,49.00 C488.17,50.83 487.83,51.50 489.00,53.00 C490.17,54.50 492.17,56.50 494.00,58.00 C495.83,59.50 497.50,60.83 500.00,62.00 C502.50,63.17 505.67,64.00 509.00,65.00 C512.33,66.00 514.83,66.67 520.00,68.00 C525.17,69.33 535.33,71.50 540.00,73.00 C544.67,74.50 543.47,75.42 548.00,77.00 C552.53,78.58 558.53,79.77 567.20,82.50 C575.87,85.23 591.68,90.52 600.00,93.40 C608.32,96.28 610.73,96.63 617.10,99.80 C623.47,102.97 632.57,107.83 638.20,112.40 C643.83,116.97 647.38,122.27 650.90,127.20 C654.42,132.13 657.20,138.03 659.30,142.00 C661.40,145.97 661.75,147.68 663.50,151.00 C665.25,154.32 667.68,157.27 669.80,161.90 C671.92,166.53 674.43,173.53 676.20,178.80 C677.97,184.07 679.35,189.13 680.40,193.50 C681.45,197.87 681.62,199.92 682.50,205.00 C683.38,210.08 684.28,217.67 685.70,224.00 C687.12,230.33 688.72,234.67 691.00,243.00 C693.28,251.33 697.40,264.50 699.40,274.00 C701.40,283.50 702.40,295.67 703.00,300.00" fill="none" stroke="#ffa500" stroke-width="2.20" stroke-linejoin="round"/>

<path d="M444.00,51.50 C449.00,51.75 465.67,52.17 474.00,53.00 C482.33,53.83 486.33,55.63 494.00,56.50 C501.67,57.37 503.00,57.87 520.00,58.20 C537.00,58.53 579.33,58.37 596.00,58.50 C612.67,58.63 612.67,58.42 620.00,59.00 C627.33,59.58 634.17,60.33 640.00,62.00 C645.83,63.67 649.00,66.42 655.00,69.00 C661.00,71.58 669.17,74.83 676.00,77.50 C682.83,80.17 690.00,82.75 696.00,85.00 C702.00,87.25 707.70,89.33 712.00,91.00 C716.30,92.67 718.63,93.83 721.80,95.00 C724.97,96.17 728.13,96.90 731.00,98.00 C733.87,99.10 735.05,99.37 739.00,101.60 C742.95,103.83 746.20,105.00 754.70,111.40 C763.20,117.80 782.45,108.57 790.00,140.00 C797.55,171.43 798.33,273.33 800.00,300.00" fill="none" stroke="#ffa500" stroke-width="1.10" stroke-linejoin="round"/>

<path d="M444.00,55.50 C449.00,55.78 466.83,56.28 474.00,57.20 C481.17,58.12 482.67,60.03 487.00,61.00 C491.33,61.97 494.50,62.50 500.00,63.00 C505.50,63.50 511.67,63.70 520.00,64.00 C528.33,64.30 543.67,64.30 550.00,64.80 C556.33,65.30 556.00,65.80 558.00,67.00 C560.00,68.20 561.00,69.83 562.00,72.00 C563.00,74.17 563.27,77.00 564.00,80.00 C564.73,83.00 565.65,86.22 566.40,90.00 C567.15,93.78 567.63,97.78 568.50,102.70 C569.37,107.62 569.85,113.53 571.60,119.50 C573.35,125.47 575.65,132.87 579.00,138.50 C582.35,144.13 588.87,150.28 591.70,153.30 C594.53,156.32 591.77,153.42 596.00,156.60 C600.23,159.78 610.07,167.30 617.10,172.40 C624.13,177.50 631.17,182.27 638.20,187.20 C645.23,192.13 652.27,196.92 659.30,202.00 C666.33,207.08 674.07,211.93 680.40,217.70 C686.73,223.47 692.03,230.63 697.30,236.60 C702.57,242.57 708.48,247.27 712.00,253.50 C715.52,259.73 716.73,266.25 718.40,274.00 C720.07,281.75 721.40,295.67 722.00,300.00" fill="none" stroke="#ffa500" stroke-width="2.20" stroke-dasharray="8.14 3.52" stroke-linejoin="round"/>

<path d="M444.00,69.80 C449.00,70.08 465.67,70.63 474.00,71.50 C482.33,72.37 486.33,73.75 494.00,75.00 C501.67,76.25 503.00,78.25 520.00,79.00 C537.00,79.75 579.33,79.08 596.00,79.50 C612.67,79.92 612.67,80.08 620.00,81.50 C627.33,82.92 633.33,85.08 640.00,88.00 C646.67,90.92 652.28,94.92 660.00,99.00 C667.72,103.08 677.53,108.33 686.30,112.50 C695.07,116.67 706.65,121.08 712.60,124.00 C718.55,126.92 717.60,127.95 722.00,130.00 C726.40,132.05 733.53,134.02 739.00,136.30 C744.47,138.58 746.30,138.92 754.80,143.70 C763.30,148.48 782.47,138.95 790.00,165.00 C797.53,191.05 798.33,277.50 800.00,300.00" fill="none" stroke="#ffa500" stroke-width="1.10" stroke-dasharray="4.07 1.76" stroke-linejoin="round"/>

<path d="M444.00,50.50 C449.00,50.75 465.67,51.33 474.00,52.00 C482.33,52.67 486.33,53.92 494.00,54.50 C501.67,55.08 503.00,55.25 520.00,55.50 C537.00,55.75 579.33,55.92 596.00,56.00 C612.67,56.08 614.33,55.75 620.00,56.00 C625.67,56.25 626.67,56.83 630.00,57.50 C633.33,58.17 636.67,58.92 640.00,60.00 C643.33,61.08 646.67,62.75 650.00,64.00 C653.33,65.25 655.67,66.03 660.00,67.50 C664.33,68.97 670.83,71.22 676.00,72.80 C681.17,74.38 686.83,75.72 691.00,77.00 C695.17,78.28 698.50,79.50 701.00,80.50 C703.50,81.50 704.50,81.75 706.00,83.00 C707.50,84.25 708.83,86.33 710.00,88.00 C711.17,89.67 712.00,91.17 713.00,93.00 C714.00,94.83 714.97,97.13 716.00,99.00 C717.03,100.87 717.13,101.13 719.20,104.20 C721.27,107.27 725.10,113.43 728.40,117.40 C731.70,121.37 735.65,124.50 739.00,128.00 C742.35,131.50 745.68,134.90 748.50,138.40 C751.32,141.90 748.98,138.73 755.90,149.00 C762.82,159.27 782.65,174.83 790.00,200.00 C797.35,225.17 798.33,283.33 800.00,300.00" fill="none" stroke="rgba(128,0,128,0.46)" stroke-width="1.10" stroke-linejoin="round"/>

<path d="M444.00,34.50 C448.17,34.50 463.17,34.17 469.00,34.50 C474.83,34.83 475.67,36.00 479.00,36.50 C482.33,37.00 482.17,37.25 489.00,37.50 C495.83,37.75 509.00,37.92 520.00,38.00 C531.00,38.08 547.12,37.48 555.00,38.00 C562.88,38.52 563.20,39.22 567.30,41.10 C571.40,42.98 575.82,47.23 579.60,49.30 C583.38,51.37 586.60,52.47 590.00,53.50 C593.40,54.53 594.78,54.92 600.00,55.50 C605.22,56.08 616.30,56.33 621.30,57.00 C626.30,57.67 626.05,57.83 630.00,59.50 C633.95,61.17 640.83,64.75 645.00,67.00 C649.17,69.25 652.50,70.67 655.00,73.00 C657.50,75.33 657.85,77.33 660.00,81.00 C662.15,84.67 664.62,90.47 667.90,95.00 C671.18,99.53 675.53,103.37 679.70,108.20 C683.87,113.03 690.03,120.37 692.90,124.00 C695.77,127.63 695.18,126.72 696.90,130.00 C698.62,133.28 701.73,140.20 703.20,143.70 C704.67,147.20 704.57,147.27 705.70,151.00 C706.83,154.73 708.77,160.07 710.00,166.10 C711.23,172.13 712.23,180.72 713.10,187.20 C713.97,193.68 714.67,196.77 715.20,205.00 C715.73,213.23 715.77,225.10 716.30,236.60 C716.83,248.10 717.95,263.43 718.40,274.00 C718.85,284.57 718.90,295.67 719.00,300.00" fill="none" stroke="rgba(128,0,128,0.46)" stroke-width="2.20" stroke-linejoin="round"/>

<path d="M444.00,55.00 C449.00,55.33 466.50,56.25 474.00,57.00 C481.50,57.75 484.00,58.83 489.00,59.50 C494.00,60.17 498.83,60.78 504.00,61.00 C509.17,61.22 511.50,60.80 520.00,60.80 C528.50,60.80 547.50,60.47 555.00,61.00 C562.50,61.53 561.67,62.50 565.00,64.00 C568.33,65.50 571.67,67.83 575.00,70.00 C578.33,72.17 582.22,75.00 585.00,77.00 C587.78,79.00 588.53,80.47 591.70,82.00 C594.87,83.53 599.77,84.30 604.00,86.20 C608.23,88.10 611.40,91.13 617.10,93.40 C622.80,95.67 632.22,97.33 638.20,99.80 C644.18,102.27 649.37,105.27 653.00,108.20 C656.63,111.13 658.25,114.58 660.00,117.40 C661.75,120.22 661.75,122.25 663.50,125.10 C665.25,127.95 668.38,131.68 670.50,134.50 C672.62,137.32 673.85,139.25 676.20,142.00 C678.55,144.75 682.22,148.62 684.60,151.00 C686.98,153.38 688.38,154.48 690.50,156.30 C692.62,158.12 693.37,159.22 697.30,161.90 C701.23,164.58 708.48,168.18 714.10,172.40 C719.72,176.62 726.42,181.77 731.00,187.20 C735.58,192.63 738.78,196.77 741.60,205.00 C744.42,213.23 746.15,226.05 747.90,236.60 C749.65,247.15 751.28,262.07 752.10,268.30 C752.92,274.53 752.65,268.72 752.80,274.00 C752.95,279.28 752.97,295.67 753.00,300.00" fill="none" stroke="rgba(128,0,128,0.46)" stroke-width="2.20" stroke-dasharray="8.14 3.52" stroke-linejoin="round"/>

<path d="M444.00,69.50 C449.00,69.75 465.67,70.33 474.00,71.00 C482.33,71.67 486.33,72.58 494.00,73.50 C501.67,74.42 503.00,76.00 520.00,76.50 C537.00,77.00 577.67,76.42 596.00,76.50 C614.33,76.58 622.67,76.25 630.00,77.00 C637.33,77.75 634.33,78.32 640.00,81.00 C645.67,83.68 658.47,90.00 664.00,93.10 C669.53,96.20 668.38,97.08 673.20,99.60 C678.02,102.12 687.43,105.68 692.90,108.20 C698.37,110.72 703.15,112.52 706.00,114.70 C708.85,116.88 708.72,118.75 710.00,121.30 C711.28,123.85 712.53,126.88 713.70,130.00 C714.87,133.12 715.60,136.83 717.00,140.00 C718.40,143.17 719.48,145.40 722.10,149.00 C724.72,152.60 727.72,157.93 732.70,161.60 C737.68,165.27 742.45,166.27 752.00,171.00 C761.55,175.73 782.00,168.50 790.00,190.00 C798.00,211.50 798.33,281.67 800.00,300.00" fill="none" stroke="rgba(128,0,128,0.46)" stroke-width="1.10" stroke-dasharray="4.07 1.76" stroke-linejoin="round"/>

</g>
<rect x="188.0" y="59" width="104" height="12.5" fill="rgba(255,255,255,0.62)"/>
<text x="189.5" y="69.2" class="hess" textLength="101.5" lengthAdjust="spacingAndGlyphs">HESS J1731-347</text>
<rect x="572.4" y="59" width="104" height="12.5" fill="rgba(255,255,255,0.62)"/>
<text x="573.9" y="69.2" class="hess" textLength="101.5" lengthAdjust="spacingAndGlyphs">HESS J1731-347</text>
<path d="M159.2,134.5 H201.3 M159.5,132.5 V136.5 M201.5,132.5 V136.5" stroke="#000" stroke-width="1.1" fill="none"/>
<path d="M159.5,134.5 V147.5" stroke="#000" stroke-width="1.1"/>
<path d="M157.8,145.5 L161.2,145.5 L159.5,156.5 Z" fill="#000"/>
<circle cx="159.2" cy="134.5" r="2.3" fill="#000"/>
<path d="M163.5,78.0 V91.0" stroke="#000" stroke-width="1.1"/>
<path d="M161.8,89.0 L165.2,89.0 L163.5,100.0 Z" fill="#000"/>
<circle cx="163.6" cy="78.0" r="2.3" fill="#000"/>
<path d="M161.0,121.5 H187.8 M160.5,119.5 V123.5 M187.5,119.5 V123.5" stroke="#000" stroke-width="1.1" fill="none"/>
<path d="M174.5,108.0 V134.0 M172.5,108.5 H176.5 M172.5,134.5 H176.5" stroke="#000" stroke-width="1.1" fill="none"/>
<circle cx="174.4" cy="121.2" r="2.3" fill="#000"/>
<path d="M192.4,89.5 H201.6 M192.5,87.5 V91.5 M201.5,87.5 V91.5" stroke="#000" stroke-width="1.1" fill="none"/>
<path d="M196.5,82.2 V96.5 M194.5,82.5 H198.5 M194.5,96.5 H198.5" stroke="#000" stroke-width="1.1" fill="none"/>
<circle cx="197.0" cy="89.2" r="2.3" fill="#000"/>
<path d="M195.4,158.5 H221.7 M195.5,156.5 V160.5 M221.5,156.5 V160.5" stroke="#000" stroke-width="1.1" fill="none"/>
<path d="M208.5,145.7 V171.8 M206.5,145.5 H210.5 M206.5,171.5 H210.5" stroke="#000" stroke-width="1.1" fill="none"/>
<circle cx="208.4" cy="158.5" r="2.3" fill="#000"/>
<path d="M214.4,153.5 H240.5 M214.5,151.5 V155.5 M240.5,151.5 V155.5" stroke="#000" stroke-width="1.1" fill="none"/>
<path d="M227.5,153.4 V198.5 M225.5,153.5 H229.5 M225.5,198.5 H229.5" stroke="#000" stroke-width="1.1" fill="none"/>
<circle cx="227.7" cy="153.4" r="2.3" fill="#000"/>
<path d="M217.6,168.5 H236.5 M217.5,166.5 V170.5 M236.5,166.5 V170.5" stroke="#000" stroke-width="1.1" fill="none"/>
<path d="M228.5,164.6 V172.9 M226.5,164.5 H230.5 M226.5,172.5 H230.5" stroke="#000" stroke-width="1.1" fill="none"/>
<circle cx="228.9" cy="168.7" r="2.3" fill="#000"/>
<path d="M237.0,148.5 H243.5 M236.5,146.5 V150.5 M243.5,146.5 V150.5" stroke="#000" stroke-width="1.1" fill="none"/>
<path d="M240.5,135.5 V161.2 M238.5,135.5 H242.5 M238.5,161.5 H242.5" stroke="#000" stroke-width="1.1" fill="none"/>
<circle cx="240.5" cy="148.4" r="2.3" fill="#000"/>
<path d="M234.5,167.5 H260.8 M234.5,165.5 V169.5 M260.5,165.5 V169.5" stroke="#000" stroke-width="1.1" fill="none"/>
<path d="M247.5,154.4 V181.0 M245.5,154.5 H249.5 M245.5,180.5 H249.5" stroke="#000" stroke-width="1.1" fill="none"/>
<circle cx="247.5" cy="167.8" r="2.3" fill="#000"/>
<path d="M256.7,156.5 H283.2 M256.5,154.5 V158.5 M283.5,154.5 V158.5" stroke="#000" stroke-width="1.1" fill="none"/>
<path d="M269.5,143.2 V169.4 M267.5,143.5 H271.5 M267.5,169.5 H271.5" stroke="#000" stroke-width="1.1" fill="none"/>
<circle cx="269.9" cy="156.3" r="2.3" fill="#000"/>
<path d="M282.2,194.5 H308.3 M282.5,192.5 V196.5 M308.5,192.5 V196.5" stroke="#000" stroke-width="1.1" fill="none"/>
<path d="M295.5,180.0 V215.5 M293.5,180.5 H297.5 M293.5,215.5 H297.5" stroke="#000" stroke-width="1.1" fill="none"/>
<circle cx="295.2" cy="195.0" r="2.3" fill="#000"/>
<path d="M285.6,166.5 H311.2 M285.5,164.5 V168.5 M311.5,164.5 V168.5" stroke="#000" stroke-width="1.1" fill="none"/>
<circle cx="298.2" cy="166.5" r="2.3" fill="#000"/>
<path d="M292.5,160.5 H318.5 M292.5,158.5 V162.5 M318.5,158.5 V162.5" stroke="#000" stroke-width="1.1" fill="none"/>
<path d="M305.5,147.5 V173.5 M303.5,147.5 H307.5 M303.5,173.5 H307.5" stroke="#000" stroke-width="1.1" fill="none"/>
<circle cx="305.6" cy="161.0" r="2.3" fill="#000"/>
<path d="M295.0,209.5 H318.3 M294.5,207.5 V211.5 M318.5,207.5 V211.5" stroke="#000" stroke-width="1.1" fill="none"/>
<path d="M304.5,195.3 V225.3 M302.5,195.5 H306.5 M302.5,225.5 H306.5" stroke="#000" stroke-width="1.1" fill="none"/>
<circle cx="304.8" cy="209.6" r="2.3" fill="#000"/>
<path d="M290.7,206.5 H311.0 M290.5,204.5 V208.5 M310.5,204.5 V208.5" stroke="#000" stroke-width="1.1" fill="none"/>
<circle cx="303.0" cy="207.0" r="2.3" fill="#000"/>
<path d="M310.6,206.5 H336.4 M310.5,204.5 V208.5 M336.5,204.5 V208.5" stroke="#000" stroke-width="1.1" fill="none"/>
<path d="M324.5,193.0 V218.6 M322.5,192.5 H326.5 M322.5,218.5 H326.5" stroke="#000" stroke-width="1.1" fill="none"/>
<circle cx="324.0" cy="206.0" r="2.3" fill="#000"/>
<path d="M312.6,193.5 H338.3 M312.5,191.5 V195.5 M338.5,191.5 V195.5" stroke="#000" stroke-width="1.1" fill="none"/>
<path d="M325.5,180.5 V205.7 M323.5,180.5 H327.5 M323.5,205.5 H327.5" stroke="#000" stroke-width="1.1" fill="none"/>
<circle cx="325.5" cy="193.2" r="2.3" fill="#000"/>
<ellipse cx="138.9" cy="103.2" rx="2.4" ry="4.3" transform="rotate(-15 138.9 103.2)" fill="#000"/>
<text x="143.6" y="102.5" class="lab" text-anchor="middle">0</text>
<text x="151.0" y="134.3" class="lab" text-anchor="middle">1</text>
<text x="155.5" y="76.6" class="lab" text-anchor="middle">2</text>
<text x="166.2" y="108.1" class="lab" text-anchor="middle">3</text>
<text x="187.0" y="87.9" class="lab" text-anchor="middle">4</text>
<text x="207.4" y="146.3" class="lab" text-anchor="middle">5</text>
<text x="229.7" y="208.5" class="lab" text-anchor="middle">6</text>
<text x="230.5" y="183.3" class="lab" text-anchor="middle">7</text>
<text x="242.5" y="133.7" class="lab" text-anchor="middle">9</text>
<text x="249.0" y="154.1" class="lab" text-anchor="middle">10</text>
<text x="274.2" y="141.5" class="lab" text-anchor="middle">11</text>
<text x="273.8" y="201.4" class="lab" text-anchor="middle">12</text>
<text x="297.0" y="157.8" class="lab" text-anchor="middle">13</text>
<text x="297.8" y="223.8" class="lab" text-anchor="middle">14</text>
<text x="324.3" y="227.9" class="lab" text-anchor="middle">15</text>
<text x="321.6" y="148.0" class="lab" text-anchor="middle">16</text>
<text x="324.9" y="179.4" class="lab" text-anchor="middle">17</text>
<text x="344.0" y="198.3" class="lab" text-anchor="middle">18</text>
<path d="M224.6,75.9 H251.5 M224.6,73.9 V77.9 M251.5,73.9 V77.9 M238.1,74.5 V77.4" stroke="#ff0000" stroke-width="1.1" fill="none"/>
<circle cx="238.1" cy="75.9" r="2.3" fill="#ff0000"/>
<path d="M543.6,134.5 H585.7 M543.5,132.5 V136.5 M585.5,132.5 V136.5" stroke="#000" stroke-width="1.1" fill="none"/>
<path d="M543.5,134.5 V147.5" stroke="#000" stroke-width="1.1"/>
<path d="M541.8,145.5 L545.2,145.5 L543.5,156.5 Z" fill="#000"/>
<circle cx="543.6" cy="134.5" r="2.3" fill="#000"/>
<path d="M548.5,78.0 V91.0" stroke="#000" stroke-width="1.1"/>
<path d="M546.8,89.0 L550.2,89.0 L548.5,100.0 Z" fill="#000"/>
<circle cx="548.0" cy="78.0" r="2.3" fill="#000"/>
<path d="M545.4,121.5 H572.2 M545.5,119.5 V123.5 M572.5,119.5 V123.5" stroke="#000" stroke-width="1.1" fill="none"/>
<path d="M558.5,108.0 V134.0 M556.5,108.5 H560.5 M556.5,134.5 H560.5" stroke="#000" stroke-width="1.1" fill="none"/>
<circle cx="558.8" cy="121.2" r="2.3" fill="#000"/>
<path d="M576.8,89.5 H586.0 M576.5,87.5 V91.5 M586.5,87.5 V91.5" stroke="#000" stroke-width="1.1" fill="none"/>
<path d="M581.5,82.2 V96.5 M579.5,82.5 H583.5 M579.5,96.5 H583.5" stroke="#000" stroke-width="1.1" fill="none"/>
<circle cx="581.4" cy="89.2" r="2.3" fill="#000"/>
<path d="M579.8,158.5 H606.1 M579.5,156.5 V160.5 M606.5,156.5 V160.5" stroke="#000" stroke-width="1.1" fill="none"/>
<path d="M592.5,145.7 V171.8 M590.5,145.5 H594.5 M590.5,171.5 H594.5" stroke="#000" stroke-width="1.1" fill="none"/>
<circle cx="592.8" cy="158.5" r="2.3" fill="#000"/>
<path d="M598.8,153.5 H624.9 M598.5,151.5 V155.5 M624.5,151.5 V155.5" stroke="#000" stroke-width="1.1" fill="none"/>
<path d="M612.5,153.4 V198.5 M610.5,153.5 H614.5 M610.5,198.5 H614.5" stroke="#000" stroke-width="1.1" fill="none"/>
<circle cx="612.1" cy="153.4" r="2.3" fill="#000"/>
<path d="M602.0,168.5 H620.9 M602.5,166.5 V170.5 M620.5,166.5 V170.5" stroke="#000" stroke-width="1.1" fill="none"/>
<path d="M613.5,164.6 V172.9 M611.5,164.5 H615.5 M611.5,172.5 H615.5" stroke="#000" stroke-width="1.1" fill="none"/>
<circle cx="613.3" cy="168.7" r="2.3" fill="#000"/>
<path d="M621.4,148.5 H627.9 M621.5,146.5 V150.5 M627.5,146.5 V150.5" stroke="#000" stroke-width="1.1" fill="none"/>
<path d="M624.5,135.5 V161.2 M622.5,135.5 H626.5 M622.5,161.5 H626.5" stroke="#000" stroke-width="1.1" fill="none"/>
<circle cx="624.9" cy="148.4" r="2.3" fill="#000"/>
<path d="M618.9,167.5 H645.2 M618.5,165.5 V169.5 M645.5,165.5 V169.5" stroke="#000" stroke-width="1.1" fill="none"/>
<path d="M631.5,154.4 V181.0 M629.5,154.5 H633.5 M629.5,180.5 H633.5" stroke="#000" stroke-width="1.1" fill="none"/>
<circle cx="631.9" cy="167.8" r="2.3" fill="#000"/>
<path d="M641.1,156.5 H667.6 M641.5,154.5 V158.5 M667.5,154.5 V158.5" stroke="#000" stroke-width="1.1" fill="none"/>
<path d="M654.5,143.2 V169.4 M652.5,143.5 H656.5 M652.5,169.5 H656.5" stroke="#000" stroke-width="1.1" fill="none"/>
<circle cx="654.3" cy="156.3" r="2.3" fill="#000"/>
<path d="M666.6,194.5 H692.7 M666.5,192.5 V196.5 M692.5,192.5 V196.5" stroke="#000" stroke-width="1.1" fill="none"/>
<path d="M679.5,180.0 V215.5 M677.5,180.5 H681.5 M677.5,215.5 H681.5" stroke="#000" stroke-width="1.1" fill="none"/>
<circle cx="679.6" cy="195.0" r="2.3" fill="#000"/>
<path d="M670.0,166.5 H695.6 M670.5,164.5 V168.5 M695.5,164.5 V168.5" stroke="#000" stroke-width="1.1" fill="none"/>
<circle cx="682.6" cy="166.5" r="2.3" fill="#000"/>
<path d="M676.9,160.5 H702.9 M676.5,158.5 V162.5 M702.5,158.5 V162.5" stroke="#000" stroke-width="1.1" fill="none"/>
<path d="M690.5,147.5 V173.5 M688.5,147.5 H692.5 M688.5,173.5 H692.5" stroke="#000" stroke-width="1.1" fill="none"/>
<circle cx="690.0" cy="161.0" r="2.3" fill="#000"/>
<path d="M679.4,209.5 H702.7 M679.5,207.5 V211.5 M702.5,207.5 V211.5" stroke="#000" stroke-width="1.1" fill="none"/>
<path d="M689.5,195.3 V225.3 M687.5,195.5 H691.5 M687.5,225.5 H691.5" stroke="#000" stroke-width="1.1" fill="none"/>
<circle cx="689.2" cy="209.6" r="2.3" fill="#000"/>
<path d="M675.1,206.5 H695.4 M675.5,204.5 V208.5 M695.5,204.5 V208.5" stroke="#000" stroke-width="1.1" fill="none"/>
<circle cx="687.4" cy="207.0" r="2.3" fill="#000"/>
<path d="M695.0,206.5 H720.8 M694.5,204.5 V208.5 M720.5,204.5 V208.5" stroke="#000" stroke-width="1.1" fill="none"/>
<path d="M708.5,193.0 V218.6 M706.5,192.5 H710.5 M706.5,218.5 H710.5" stroke="#000" stroke-width="1.1" fill="none"/>
<circle cx="708.4" cy="206.0" r="2.3" fill="#000"/>
<path d="M697.0,193.5 H722.7 M696.5,191.5 V195.5 M722.5,191.5 V195.5" stroke="#000" stroke-width="1.1" fill="none"/>
<path d="M709.5,180.5 V205.7 M707.5,180.5 H711.5 M707.5,205.5 H711.5" stroke="#000" stroke-width="1.1" fill="none"/>
<circle cx="709.9" cy="193.2" r="2.3" fill="#000"/>
<ellipse cx="523.3" cy="103.2" rx="2.4" ry="4.3" transform="rotate(-15 523.3 103.2)" fill="#000"/>
<text x="528.0" y="102.5" class="lab" text-anchor="middle">0</text>
<text x="535.4" y="134.3" class="lab" text-anchor="middle">1</text>
<text x="539.9" y="76.6" class="lab" text-anchor="middle">2</text>
<text x="550.6" y="108.1" class="lab" text-anchor="middle">3</text>
<text x="571.4" y="87.9" class="lab" text-anchor="middle">4</text>
<text x="591.8" y="146.3" class="lab" text-anchor="middle">5</text>
<text x="614.1" y="208.5" class="lab" text-anchor="middle">6</text>
<text x="614.9" y="183.3" class="lab" text-anchor="middle">7</text>
<text x="626.9" y="133.7" class="lab" text-anchor="middle">9</text>
<text x="633.4" y="154.1" class="lab" text-anchor="middle">10</text>
<text x="658.6" y="141.5" class="lab" text-anchor="middle">11</text>
<text x="658.2" y="201.4" class="lab" text-anchor="middle">12</text>
<text x="681.4" y="157.8" class="lab" text-anchor="middle">13</text>
<text x="682.2" y="223.8" class="lab" text-anchor="middle">14</text>
<text x="708.7" y="227.9" class="lab" text-anchor="middle">15</text>
<text x="706.0" y="148.0" class="lab" text-anchor="middle">16</text>
<text x="709.3" y="179.4" class="lab" text-anchor="middle">17</text>
<text x="728.4" y="198.3" class="lab" text-anchor="middle">18</text>
<path d="M609.0,75.9 H635.9 M609.0,73.9 V77.9 M635.9,73.9 V77.9 M622.5,74.5 V77.4" stroke="#ff0000" stroke-width="1.1" fill="none"/>
<circle cx="622.5" cy="75.9" r="2.3" fill="#ff0000"/>
<path d="M60.0,0.5 H371.5 V273" fill="none" stroke="#555" stroke-width="1"/>
<path d="M60.0,0 V273 H371.5" fill="none" stroke="#8a8a8a" stroke-width="1.2"/>
<path d="M57.0,273.0 H60.0" stroke="#333" stroke-width="1"/>
<text x="52.0" y="280.2" class="tick" text-anchor="end" textLength="25.5" lengthAdjust="spacingAndGlyphs">5.3</text>
<path d="M57.0,214.5 H60.0" stroke="#333" stroke-width="1"/>
<text x="52.0" y="221.7" class="tick" text-anchor="end" textLength="25.5" lengthAdjust="spacingAndGlyphs">5.6</text>
<path d="M57.0,156.0 H60.0" stroke="#333" stroke-width="1"/>
<text x="52.0" y="163.2" class="tick" text-anchor="end" textLength="25.5" lengthAdjust="spacingAndGlyphs">5.9</text>
<path d="M57.0,97.5 H60.0" stroke="#333" stroke-width="1"/>
<text x="52.0" y="104.7" class="tick" text-anchor="end" textLength="25.5" lengthAdjust="spacingAndGlyphs">6.2</text>
<path d="M57.0,39.0 H60.0" stroke="#333" stroke-width="1"/>
<text x="52.0" y="46.2" class="tick" text-anchor="end" textLength="25.5" lengthAdjust="spacingAndGlyphs">6.5</text>
<path d="M58.0,261.3 H60.0" stroke="#333" stroke-width="0.8"/>
<path d="M58.0,249.6 H60.0" stroke="#333" stroke-width="0.8"/>
<path d="M58.0,237.9 H60.0" stroke="#333" stroke-width="0.8"/>
<path d="M58.0,226.2 H60.0" stroke="#333" stroke-width="0.8"/>
<path d="M58.0,202.8 H60.0" stroke="#333" stroke-width="0.8"/>
<path d="M58.0,191.1 H60.0" stroke="#333" stroke-width="0.8"/>
<path d="M58.0,179.4 H60.0" stroke="#333" stroke-width="0.8"/>
<path d="M58.0,167.7 H60.0" stroke="#333" stroke-width="0.8"/>
<path d="M58.0,144.3 H60.0" stroke="#333" stroke-width="0.8"/>
<path d="M58.0,132.6 H60.0" stroke="#333" stroke-width="0.8"/>
<path d="M58.0,120.9 H60.0" stroke="#333" stroke-width="0.8"/>
<path d="M58.0,109.2 H60.0" stroke="#333" stroke-width="0.8"/>
<path d="M58.0,85.8 H60.0" stroke="#333" stroke-width="0.8"/>
<path d="M58.0,74.1 H60.0" stroke="#333" stroke-width="0.8"/>
<path d="M58.0,62.4 H60.0" stroke="#333" stroke-width="0.8"/>
<path d="M58.0,50.7 H60.0" stroke="#333" stroke-width="0.8"/>
<path d="M58.0,27.3 H60.0" stroke="#333" stroke-width="0.8"/>
<path d="M58.0,15.6 H60.0" stroke="#333" stroke-width="0.8"/>
<path d="M58.0,3.9 H60.0" stroke="#333" stroke-width="0.8"/>
<path d="M60.0,273 V276" stroke="#333" stroke-width="1"/>
<text x="60.0" y="290.5" class="tick" text-anchor="middle">1</text>
<path d="M70.4,273 V275" stroke="#333" stroke-width="0.8"/>
<path d="M80.8,273 V275" stroke="#333" stroke-width="0.8"/>
<path d="M91.2,273 V275" stroke="#333" stroke-width="0.8"/>
<path d="M101.5,273 V275" stroke="#333" stroke-width="0.8"/>
<path d="M111.9,273 V276" stroke="#333" stroke-width="1"/>
<text x="111.9" y="290.5" class="tick" text-anchor="middle">2</text>
<path d="M122.3,273 V275" stroke="#333" stroke-width="0.8"/>
<path d="M132.7,273 V275" stroke="#333" stroke-width="0.8"/>
<path d="M143.1,273 V275" stroke="#333" stroke-width="0.8"/>
<path d="M153.5,273 V275" stroke="#333" stroke-width="0.8"/>
<path d="M163.8,273 V276" stroke="#333" stroke-width="1"/>
<text x="163.8" y="290.5" class="tick" text-anchor="middle">3</text>
<path d="M174.2,273 V275" stroke="#333" stroke-width="0.8"/>
<path d="M184.6,273 V275" stroke="#333" stroke-width="0.8"/>
<path d="M195.0,273 V275" stroke="#333" stroke-width="0.8"/>
<path d="M205.4,273 V275" stroke="#333" stroke-width="0.8"/>
<path d="M215.8,273 V276" stroke="#333" stroke-width="1"/>
<text x="215.8" y="290.5" class="tick" text-anchor="middle">4</text>
<path d="M226.1,273 V275" stroke="#333" stroke-width="0.8"/>
<path d="M236.5,273 V275" stroke="#333" stroke-width="0.8"/>
<path d="M246.9,273 V275" stroke="#333" stroke-width="0.8"/>
<path d="M257.3,273 V275" stroke="#333" stroke-width="0.8"/>
<path d="M267.7,273 V276" stroke="#333" stroke-width="1"/>
<text x="267.7" y="290.5" class="tick" text-anchor="middle">5</text>
<path d="M278.1,273 V275" stroke="#333" stroke-width="0.8"/>
<path d="M288.4,273 V275" stroke="#333" stroke-width="0.8"/>
<path d="M298.8,273 V275" stroke="#333" stroke-width="0.8"/>
<path d="M309.2,273 V275" stroke="#333" stroke-width="0.8"/>
<path d="M319.6,273 V276" stroke="#333" stroke-width="1"/>
<text x="319.6" y="290.5" class="tick" text-anchor="middle">6</text>
<path d="M330.0,273 V275" stroke="#333" stroke-width="0.8"/>
<path d="M340.4,273 V275" stroke="#333" stroke-width="0.8"/>
<path d="M350.8,273 V275" stroke="#333" stroke-width="0.8"/>
<path d="M361.1,273 V275" stroke="#333" stroke-width="0.8"/>
<path d="M371.5,273 V276" stroke="#333" stroke-width="1"/>
<text x="371.5" y="290.5" class="tick" text-anchor="middle">7</text>
<path d="M444.0,0.5 H756.0 V273" fill="none" stroke="#555" stroke-width="1"/>
<path d="M444.0,0 V273 H756.0" fill="none" stroke="#8a8a8a" stroke-width="1.2"/>
<path d="M441.0,273.0 H444.0" stroke="#333" stroke-width="1"/>
<text x="436.0" y="280.2" class="tick" text-anchor="end" textLength="25.5" lengthAdjust="spacingAndGlyphs">5.3</text>
<path d="M441.0,214.5 H444.0" stroke="#333" stroke-width="1"/>
<text x="436.0" y="221.7" class="tick" text-anchor="end" textLength="25.5" lengthAdjust="spacingAndGlyphs">5.6</text>
<path d="M441.0,156.0 H444.0" stroke="#333" stroke-width="1"/>
<text x="436.0" y="163.2" class="tick" text-anchor="end" textLength="25.5" lengthAdjust="spacingAndGlyphs">5.9</text>
<path d="M441.0,97.5 H444.0" stroke="#333" stroke-width="1"/>
<text x="436.0" y="104.7" class="tick" text-anchor="end" textLength="25.5" lengthAdjust="spacingAndGlyphs">6.2</text>
<path d="M441.0,39.0 H444.0" stroke="#333" stroke-width="1"/>
<text x="436.0" y="46.2" class="tick" text-anchor="end" textLength="25.5" lengthAdjust="spacingAndGlyphs">6.5</text>
<path d="M442.0,261.3 H444.0" stroke="#333" stroke-width="0.8"/>
<path d="M442.0,249.6 H444.0" stroke="#333" stroke-width="0.8"/>
<path d="M442.0,237.9 H444.0" stroke="#333" stroke-width="0.8"/>
<path d="M442.0,226.2 H444.0" stroke="#333" stroke-width="0.8"/>
<path d="M442.0,202.8 H444.0" stroke="#333" stroke-width="0.8"/>
<path d="M442.0,191.1 H444.0" stroke="#333" stroke-width="0.8"/>
<path d="M442.0,179.4 H444.0" stroke="#333" stroke-width="0.8"/>
<path d="M442.0,167.7 H444.0" stroke="#333" stroke-width="0.8"/>
<path d="M442.0,144.3 H444.0" stroke="#333" stroke-width="0.8"/>
<path d="M442.0,132.6 H444.0" stroke="#333" stroke-width="0.8"/>
<path d="M442.0,120.9 H444.0" stroke="#333" stroke-width="0.8"/>
<path d="M442.0,109.2 H444.0" stroke="#333" stroke-width="0.8"/>
<path d="M442.0,85.8 H444.0" stroke="#333" stroke-width="0.8"/>
<path d="M442.0,74.1 H444.0" stroke="#333" stroke-width="0.8"/>
<path d="M442.0,62.4 H444.0" stroke="#333" stroke-width="0.8"/>
<path d="M442.0,50.7 H444.0" stroke="#333" stroke-width="0.8"/>
<path d="M442.0,27.3 H444.0" stroke="#333" stroke-width="0.8"/>
<path d="M442.0,15.6 H444.0" stroke="#333" stroke-width="0.8"/>
<path d="M442.0,3.9 H444.0" stroke="#333" stroke-width="0.8"/>
<path d="M444.0,273 V276" stroke="#333" stroke-width="1"/>
<text x="444.0" y="290.5" class="tick" text-anchor="middle">1</text>
<path d="M454.4,273 V275" stroke="#333" stroke-width="0.8"/>
<path d="M464.8,273 V275" stroke="#333" stroke-width="0.8"/>
<path d="M475.2,273 V275" stroke="#333" stroke-width="0.8"/>
<path d="M485.6,273 V275" stroke="#333" stroke-width="0.8"/>
<path d="M496.0,273 V276" stroke="#333" stroke-width="1"/>
<text x="496.0" y="290.5" class="tick" text-anchor="middle">2</text>
<path d="M506.4,273 V275" stroke="#333" stroke-width="0.8"/>
<path d="M516.8,273 V275" stroke="#333" stroke-width="0.8"/>
<path d="M527.2,273 V275" stroke="#333" stroke-width="0.8"/>
<path d="M537.6,273 V275" stroke="#333" stroke-width="0.8"/>
<path d="M548.0,273 V276" stroke="#333" stroke-width="1"/>
<text x="548.0" y="290.5" class="tick" text-anchor="middle">3</text>
<path d="M558.4,273 V275" stroke="#333" stroke-width="0.8"/>
<path d="M568.8,273 V275" stroke="#333" stroke-width="0.8"/>
<path d="M579.2,273 V275" stroke="#333" stroke-width="0.8"/>
<path d="M589.6,273 V275" stroke="#333" stroke-width="0.8"/>
<path d="M600.0,273 V276" stroke="#333" stroke-width="1"/>
<text x="600.0" y="290.5" class="tick" text-anchor="middle">4</text>
<path d="M610.4,273 V275" stroke="#333" stroke-width="0.8"/>
<path d="M620.8,273 V275" stroke="#333" stroke-width="0.8"/>
<path d="M631.2,273 V275" stroke="#333" stroke-width="0.8"/>
<path d="M641.6,273 V275" stroke="#333" stroke-width="0.8"/>
<path d="M652.0,273 V276" stroke="#333" stroke-width="1"/>
<text x="652.0" y="290.5" class="tick" text-anchor="middle">5</text>
<path d="M662.4,273 V275" stroke="#333" stroke-width="0.8"/>
<path d="M672.8,273 V275" stroke="#333" stroke-width="0.8"/>
<path d="M683.2,273 V275" stroke="#333" stroke-width="0.8"/>
<path d="M693.6,273 V275" stroke="#333" stroke-width="0.8"/>
<path d="M704.0,273 V276" stroke="#333" stroke-width="1"/>
<text x="704.0" y="290.5" class="tick" text-anchor="middle">6</text>
<path d="M714.4,273 V275" stroke="#333" stroke-width="0.8"/>
<path d="M724.8,273 V275" stroke="#333" stroke-width="0.8"/>
<path d="M735.2,273 V275" stroke="#333" stroke-width="0.8"/>
<path d="M745.6,273 V275" stroke="#333" stroke-width="0.8"/>
<path d="M756.0,273 V276" stroke="#333" stroke-width="1"/>
<text x="756.0" y="290.5" class="tick" text-anchor="middle">7</text>
<text class="xl"><tspan class="sans" x="170.2" y="308.9" font-size="17">log</tspan><tspan class="sans" x="195.6" y="311.8" font-size="12">10</tspan><tspan x="218.6" y="308.9" font-size="17">t</tspan><tspan x="232.5" y="308.9" font-size="17" textLength="27" lengthAdjust="spacingAndGlyphs">[yr]</tspan></text>
<text class="xl"><tspan class="sans" x="554.6" y="308.9" font-size="17">log</tspan><tspan class="sans" x="580.0" y="311.8" font-size="12">10</tspan><tspan x="603.0" y="308.9" font-size="17">t</tspan><tspan x="616.9" y="308.9" font-size="17" textLength="27" lengthAdjust="spacingAndGlyphs">[yr]</tspan></text>
<g transform="translate(19.0,186) rotate(-90)"><text class="xl"><tspan class="sans" x="-0.7" y="0" font-size="17">log</tspan><tspan class="sans" x="23.0" y="2.9" font-size="12">10</tspan><tspan x="47.8" y="-0.6" font-size="20">T</tspan><tspan class="sans" x="59.8" y="-8.6" font-size="11">∞</tspan><tspan class="sans" x="59.0" y="3.6" font-size="10.5" font-style="italic">s</tspan><tspan x="76.5" y="-0.3" font-size="17" textLength="22.5" lengthAdjust="spacingAndGlyphs">[K]</tspan></text></g>
<g transform="translate(404.1,186) rotate(-90)"><text class="xl"><tspan class="sans" x="-0.7" y="0" font-size="17">log</tspan><tspan class="sans" x="23.0" y="2.9" font-size="12">10</tspan><tspan x="47.8" y="-0.6" font-size="20">T</tspan><tspan class="sans" x="59.8" y="-8.6" font-size="11">∞</tspan><tspan class="sans" x="59.0" y="3.6" font-size="10.5" font-style="italic">s</tspan><tspan x="76.5" y="-0.3" font-size="17" textLength="22.5" lengthAdjust="spacingAndGlyphs">[K]</tspan></text></g>
<g transform="translate(62.0,29.2) rotate(14.0)"><text class="ann"><tspan x="0" y="0" font-style="italic">Δ</tspan><tspan x="5.9" y="0" font-style="italic">M</tspan><tspan x="15.6" y="0">=</tspan><tspan x="23.3" y="0">10</tspan><tspan x="36.0" y="-3.8" font-size="7.6">−7</tspan><tspan x="49.1" y="0" font-style="italic">M</tspan><tspan x="57.4" y="2.6" font-size="7.4">⊙</tspan></text></g>
<g transform="translate(61.0,98.2) rotate(14.5)"><text class="ann"><tspan x="0" y="0" font-style="italic">Δ</tspan><tspan x="5.9" y="0" font-style="italic">M</tspan><tspan x="15.6" y="0">=</tspan><tspan x="23.3" y="0">10</tspan><tspan x="36.0" y="-3.8" font-size="7.6">−16</tspan><tspan x="53.6" y="0" font-style="italic">M</tspan><tspan x="61.9" y="2.6" font-size="7.4">⊙</tspan></text></g>
<g transform="translate(445.8,29.4) rotate(5.0)"><text class="ann"><tspan x="0" y="0" font-style="italic">Δ</tspan><tspan x="5.9" y="0" font-style="italic">M</tspan><tspan x="15.6" y="0">=</tspan><tspan x="23.3" y="0">10</tspan><tspan x="36.0" y="-3.8" font-size="7.6">−7</tspan><tspan x="49.1" y="0" font-style="italic">M</tspan><tspan x="57.4" y="2.6" font-size="7.4">⊙</tspan></text></g>
<g transform="translate(445.5,82.6) rotate(4.5)"><text class="ann"><tspan x="0" y="0" font-style="italic">Δ</tspan><tspan x="5.9" y="0" font-style="italic">M</tspan><tspan x="15.6" y="0">=</tspan><tspan x="23.3" y="0">10</tspan><tspan x="36.0" y="-3.8" font-size="7.6">−16</tspan><tspan x="53.6" y="0" font-style="italic">M</tspan><tspan x="61.9" y="2.6" font-size="7.4">⊙</tspan></text></g>
<rect x="67.2" y="218.8" width="17.4" height="6.4" fill="#ff0000"/>
<rect x="67.2" y="232.3" width="17.4" height="6.5" fill="#008000"/>
<path d="M67.2,248 H84.6" stroke="#000" stroke-width="1.5"/>
<path d="M67.2,261 H84.6" stroke="#000" stroke-width="1.5" stroke-dasharray="6.5 4"/>
<text x="91.0" y="224.8" class="leg" textLength="69" lengthAdjust="spacingAndGlyphs">unpaired matter</text>
<text x="91.0" y="238.3" class="leg" textLength="122.0" lengthAdjust="spacingAndGlyphs">n <tspan font-size="6" dy="-3">1</tspan><tspan dy="3" font-style="italic">S</tspan><tspan font-size="6" dy="1.5">0</tspan><tspan dy="-1.5"> &amp; n </tspan><tspan font-size="6" dy="-3">3</tspan><tspan dy="3" font-style="italic">P</tspan><tspan font-size="6" dy="1.5">2</tspan><tspan dy="-1.5"> &amp; p </tspan><tspan font-size="6" dy="-3">1</tspan><tspan dy="3" font-style="italic">S</tspan><tspan font-size="6" dy="1.5">0</tspan><tspan dy="-1.5"> pairing</tspan></text>
<text x="91.0" y="251.3" class="leg" textLength="101" lengthAdjust="spacingAndGlyphs">light-elements envelope</text>
<text x="91.0" y="264.3" class="leg" textLength="106" lengthAdjust="spacingAndGlyphs">heavy-elements envelope</text>
<rect x="451.2" y="218.8" width="17.4" height="6.4" fill="#ffa500"/>
<rect x="451.2" y="232.3" width="17.4" height="6.5" fill="#ff00ff"/>
<path d="M451.2,248 H468.6" stroke="#000" stroke-width="1.5"/>
<path d="M451.2,261 H468.6" stroke="#000" stroke-width="1.5" stroke-dasharray="6.5 4"/>
<text x="475.0" y="224.8" class="leg" textLength="69" lengthAdjust="spacingAndGlyphs">unpaired matter</text>
<text x="475.0" y="238.3" class="leg" textLength="44.8" lengthAdjust="spacingAndGlyphs">2SC phase</text>
<text x="475.0" y="251.3" class="leg" textLength="101" lengthAdjust="spacingAndGlyphs">light-elements envelope</text>
<text x="475.0" y="264.3" class="leg" textLength="106" lengthAdjust="spacingAndGlyphs">heavy-elements envelope</text>
</svg>
</body></html>
